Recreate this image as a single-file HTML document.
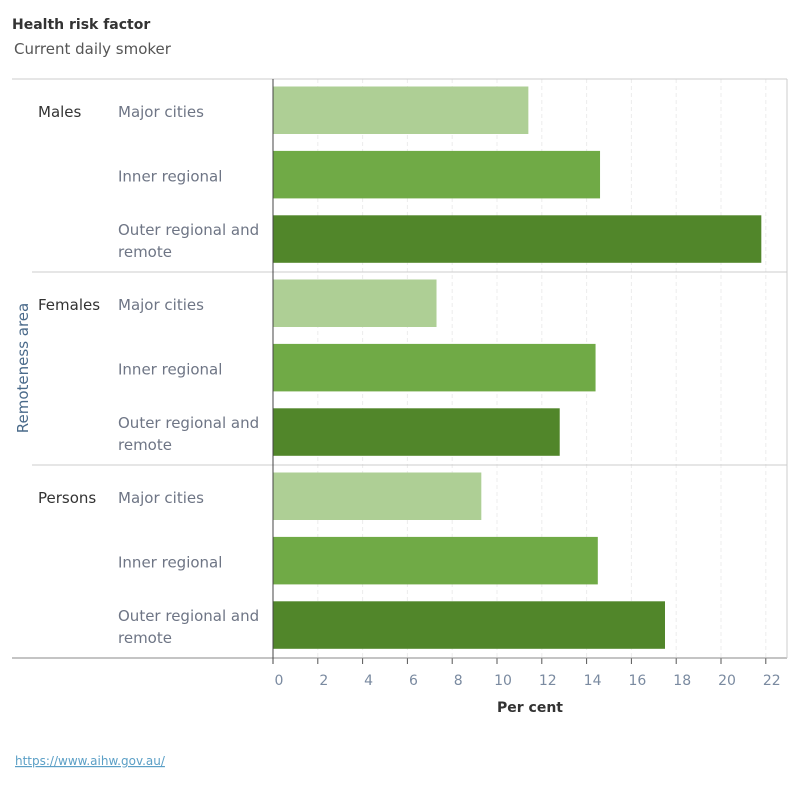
<!DOCTYPE html>
<html><head><meta charset="utf-8"><style>
body{margin:0;background:#fff;width:800px;height:800px;overflow:hidden;font-family:"DejaVu Sans","Liberation Sans",sans-serif}
svg{font-family:"DejaVu Sans","Liberation Sans",sans-serif}
</style></head><body>
<svg id="chart" width="800" height="800" xmlns="http://www.w3.org/2000/svg">
<text x="12" y="29" font-size="14" font-weight="bold" fill="#333">Health risk factor</text>
<text x="14" y="54" font-size="15" fill="#555">Current daily smoker</text>
<text transform="translate(28,368) rotate(-90)" text-anchor="middle" font-size="15" fill="#4a6a8a">Remoteness area</text>
<text x="530" y="712" text-anchor="middle" font-size="14" font-weight="bold" fill="#333">Per cent</text>
<a href="#"><text x="15" y="765" font-size="12" fill="#5b9fc6" text-decoration="underline">https://www.aihw.gov.au/</text></a>
<g id="grid"></g><g id="bars"></g><g id="labels"></g><g id="axis"></g>
</svg>
<script>
const groups=["Males","Females","Persons"];
const categories=["Major cities","Inner regional","Outer regional and remote"];
const males=[11.4,14.6,21.8];
const females=[7.3,14.4,12.8];
const persons=[9.3,14.5,17.5];
const ticks=[0,2,4,6,8,10,12,14,16,18,20,22];
const series=[males,females,persons];
const colors=["#aecf95","#70aa46","#51862a"];
const NS="http://www.w3.org/2000/svg";
const x0=273,k=22.4,top0=79,secH=193,rowH=64.4;
const xs=v=>x0+v*k;
function mk(tag,attrs,parent){const e=document.createElementNS(NS,tag);for(const a in attrs)e.setAttribute(a,attrs[a]);document.getElementById(parent).appendChild(e);return e;}
ticks.forEach(t=>{
 if(t>0){const g=mk('line',{x1:xs(t),x2:xs(t),y1:top0,y2:658,stroke:'#ececec','stroke-dasharray':'4,3'},'grid');
 
 }
 const tk=mk('line',{x1:xs(t),x2:xs(t),y1:658,y2:664,stroke:'#555'},'axis');
 
 
 const tl=mk('text',{x:xs(t)+6,y:685,'text-anchor':'middle','font-size':'14',fill:'#7a8aa0'},'axis');
 tl.textContent=t;
 
 
});
let l=mk('line',{x1:12,x2:787,y1:top0,y2:top0,stroke:'#ccc'},'axis');


l=mk('line',{x1:12,x2:787,y1:658,y2:658,stroke:'#888'},'axis');


l=mk('line',{x1:787,x2:787,y1:top0,y2:658,stroke:'#ccc'},'axis');


l=mk('line',{x1:x0,x2:x0,y1:top0,y2:664,stroke:'#444'},'axis');


groups.forEach((g,gi)=>{
 const sy=top0+gi*secH;
 if(gi>0){const s=mk('line',{x1:32,x2:787,y1:sy,y2:sy,stroke:'#ccc'},'grid');
 
 }
 const gl=mk('text',{x:38,y:sy+38,'font-size':'15',fill:'#333'},'labels');
 gl.textContent=g;
 
 
 categories.forEach((c,ci)=>{
  const ry=sy+ci*rowH;
  const v=series[gi][ci];
  const b=mk('rect',{x:x0,y:ry+7.5,width:xs(v)-x0,height:47.5,fill:colors[ci]},'bars');
  
  
  const t=mk('text',{x:118,y:0,'font-size':'15',fill:'#6e7585'},'labels');
  
  
  if(ci===2){
   t.setAttribute('y',ry+27);t.textContent='Outer regional and';
   const t2=mk('text',{x:118,y:ry+49,'font-size':'15',fill:'#6e7585'},'labels');
   t2.textContent='remote';
   
   
  } else {t.setAttribute('y',ry+38);t.textContent=c;}
 });
});
</script>
</body></html>
